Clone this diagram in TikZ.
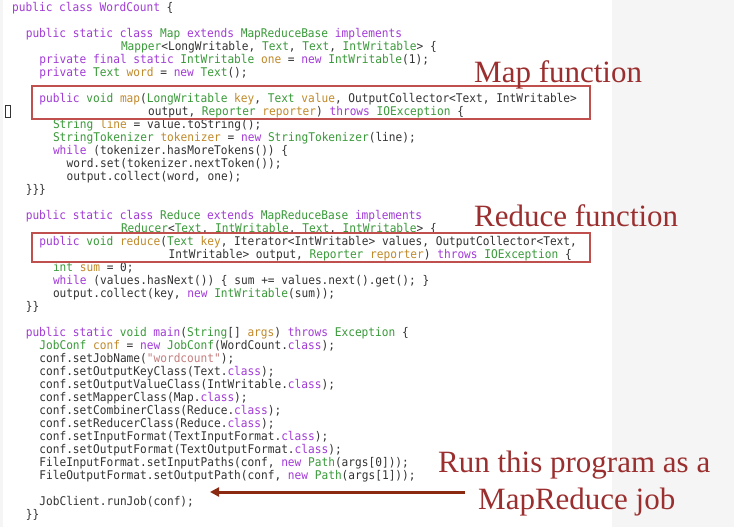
\documentclass[tikz,border=0pt]{standalone}
\usepackage{fontspec}
\setmonofont{DejaVu Sans Mono}[FakeStretch=0.93]
\setmainfont{Liberation Serif}
\usetikzlibrary{arrows.meta}
\definecolor{kwc}{HTML}{A23BD6}
\definecolor{tyc}{HTML}{3A9A3A}
\definecolor{idc}{HTML}{C08A2A}
\definecolor{stc}{HTML}{C47F7F}
\definecolor{txc}{HTML}{333333}
\definecolor{boxc}{HTML}{C0504D}
\definecolor{annc}{HTML}{9B2F2F}
\definecolor{arrc}{HTML}{8B2A10}
\newcommand\kw[1]{\textcolor{kwc}{#1}}
\newcommand\ty[1]{\textcolor{tyc}{#1}}
\newcommand\idn[1]{\textcolor{idc}{#1}}
\newcommand\strc[1]{\textcolor{stc}{#1}}
\newcommand\cl[3]{\node[codeline] (l#1) at ({12+#2*6.8},{#1*13+11.5}) {#3};}
\tikzset{
  codeline/.style={anchor=base west,inner sep=0pt,text=txc,font=\fontsize{12}{13}\ttfamily},
  ann/.style={text=annc,font=\fontsize{31}{36}\selectfont,inner sep=0pt,anchor=base west},
  hbox/.style={draw=boxc,line width=1.3pt}
}
\begin{document}
\begin{tikzpicture}[x=1pt,y=-1pt]
\fill[gray!8] (0,0) rectangle (734,527);
\fill[white] (3,0) rectangle (612,527);
\useasboundingbox (0,0) rectangle (734,527);
\cl{0}{0}{\kw{public class} \kw{WordCount} \{}
\cl{2}{2}{\kw{public static class} \ty{Map} \kw{extends} \ty{MapReduceBase} \kw{implements}}
\cl{3}{16}{\ty{Mapper}<LongWritable, \ty{Text}, \ty{Text}, \ty{IntWritable}> \{}
\cl{4}{4}{\kw{private final static} \ty{IntWritable} \idn{one} = \kw{new} \ty{IntWritable}(1);}
\cl{5}{4}{\kw{private} \ty{Text} \idn{word} = \kw{new} \ty{Text}();}
\cl{7}{4}{\kw{public} \ty{void} \idn{map}(\ty{LongWritable} \idn{key}, \ty{Text} \idn{value}, OutputCollector<Text, IntWritable>}
\cl{8}{20}{output, \ty{Reporter} \idn{reporter}) \kw{throws} \ty{IOException} \{}
\cl{9}{6}{\ty{String} \idn{line} = value.toString();}
\cl{10}{6}{\ty{StringTokenizer} \idn{tokenizer} = \kw{new} \ty{StringTokenizer}(line);}
\cl{11}{6}{\kw{while} (tokenizer.hasMoreTokens()) \{}
\cl{12}{8}{word.set(tokenizer.nextToken());}
\cl{13}{8}{output.collect(word, one);}
\cl{14}{2}{\}\}\}}
\cl{16}{2}{\kw{public static class} \ty{Reduce} \kw{extends} \ty{MapReduceBase} \kw{implements}}
\cl{17}{16}{\ty{Reducer}<\ty{Text}, \ty{IntWritable}, \ty{Text}, \ty{IntWritable}> \{}
\cl{18}{4}{\kw{public} \ty{void} \idn{reduce}(\ty{Text} \idn{key}, Iterator<IntWritable> values, OutputCollector<Text,}
\cl{19}{23}{IntWritable> output, \ty{Reporter} \idn{reporter}) \kw{throws} \ty{IOException} \{}
\cl{20}{6}{\ty{int} \idn{sum} = 0;}
\cl{21}{6}{\kw{while} (values.hasNext()) \{ sum += values.next().get(); \}}
\cl{22}{6}{output.collect(key, \kw{new} \ty{IntWritable}(sum));}
\cl{23}{2}{\}\}}
\cl{25}{2}{\kw{public static} \ty{void} \kw{main}(\ty{String}[] \idn{args}) \kw{throws} \ty{Exception} \{}
\cl{26}{4}{\ty{JobConf} \idn{conf} = \kw{new} \ty{JobConf}(WordCount.\kw{class});}
\cl{27}{4}{conf.setJobName(\strc{"wordcount"});}
\cl{28}{4}{conf.setOutputKeyClass(Text.\kw{class});}
\cl{29}{4}{conf.setOutputValueClass(IntWritable.\kw{class});}
\cl{30}{4}{conf.setMapperClass(Map.\kw{class});}
\cl{31}{4}{conf.setCombinerClass(Reduce.\kw{class});}
\cl{32}{4}{conf.setReducerClass(Reduce.\kw{class});}
\cl{33}{4}{conf.setInputFormat(TextInputFormat.\kw{class});}
\cl{34}{4}{conf.setOutputFormat(TextOutputFormat.\kw{class});}
\cl{35}{4}{FileInputFormat.setInputPaths(conf, \kw{new} \ty{Path}(args[0]));}
\cl{36}{4}{FileOutputFormat.setOutputPath(conf, \kw{new} \ty{Path}(args[1]));}
\cl{38}{4}{JobClient.runJob(conf);}
\cl{39}{2}{\}\}}
% marker glyph
\node[draw=black!80,line width=0.8pt,minimum width=5pt,minimum height=12pt,inner sep=0pt] (mark) at (8,111) {};
% boxes
\draw[hbox] (32,86) rectangle (590,119);
\draw[hbox] (32,233) rectangle (590,262);
% annotations
\node[ann] (mapf) at (474,82) {Map function};
\node[ann] (redf) at (474,226) {Reduce function};
\node[ann] (run1) at (438,472) {Run this program as a};
\node[ann] (run2) at (478,509) {MapReduce job};
\coordinate (astart) at (465,492);
\coordinate (aend) at (210,492);
\draw[arrc,line width=3pt,-{Triangle[length=9pt,width=9pt]}] (astart) -- (aend);
\end{tikzpicture}
\end{document}
